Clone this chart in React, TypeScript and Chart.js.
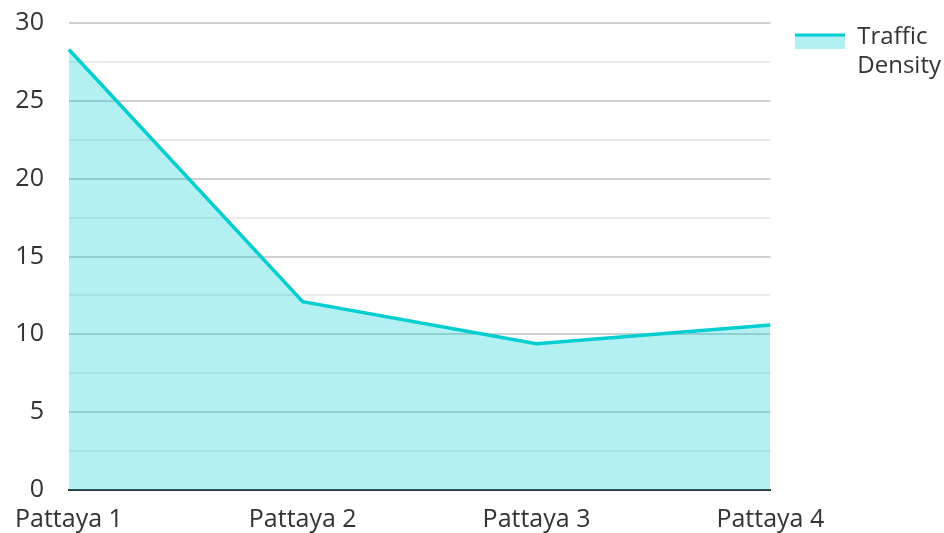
import React, { useEffect, useRef } from "react";
import { Chart, registerables } from "chart.js";

Chart.register(...registerables);

const categories = ["Pattaya 1", "Pattaya 2", "Pattaya 3", "Pattaya 4"];
const trafficDensity = [28.3, 12.1, 9.4, 10.6];
const seriesLabel = ["Traffic", "Density"];
const yMin = 0;
const yMax = 30;
const yStep = 2.5;
const yLabelStep = 5;

const LINE = "#00CED1";
const FILL = "rgba(0,206,209,0.3)";
const FONT = "'Open Sans', sans-serif";

function makeLegendIcon(): HTMLCanvasElement {
  const c = document.createElement("canvas");
  c.width = 50;
  c.height = 23;
  const g = c.getContext("2d")!;
  g.fillStyle = FILL;
  g.fillRect(0, 11, 50, 12);
  g.fillStyle = LINE;
  g.fillRect(0, 8, 50, 3);
  return c;
}

export default function App() {
  const ref = useRef<HTMLCanvasElement | null>(null);
  useEffect(() => {
    if (!ref.current) return;
    const icon = makeLegendIcon();
    const chart = new Chart(ref.current, {
      type: "line",
      data: {
        labels: categories,
        datasets: [
          {
            label: seriesLabel.join(" "),
            data: trafficDensity,
            borderColor: LINE,
            backgroundColor: FILL,
            borderWidth: 3.5,
            fill: "origin",
            pointRadius: 0,
            tension: 0,
          },
        ],
      },
      options: {
        animation: false,
        responsive: true,
        maintainAspectRatio: false,
        layout: { padding: { top: 0, bottom: -17, left: 0, right: -7 } },
        plugins: {
          tooltip: { enabled: false },
          legend: {
            position: "right",
            align: "start",
            labels: {
              usePointStyle: true,
              pointStyleWidth: 50,
              boxWidth: 50,
              padding: 25,
              color: "#333",
              font: { family: FONT, size: 24 },
              generateLabels: (ch: any) => {
                const base = Chart.defaults.plugins.legend.labels.generateLabels(ch);
                return base.map((l: any) => ({
                  ...l,
                  text: seriesLabel,
                  pointStyle: icon,
                  lineWidth: 0,
                }));
              },
            },
          },
        },
        scales: {
          x: {
            offset: false,
            grid: { display: false, drawTicks: false },
            border: { display: true, color: "#333", width: 2 },
            ticks: {
              color: "#333",
              font: { family: FONT, size: 25 },
              padding: 15,
              maxRotation: 0,
              autoSkip: false,
            },
          },
          y: {
            min: yMin,
            max: yMax,
            afterFit: (s: any) => {
              s.width = 68;
              s.paddingTop = 23;
              s.paddingBottom = 0;
            },
            grid: {
              drawTicks: false,
              lineWidth: 2,
              color: (ctx: any) =>
                ctx.tick && ctx.tick.value % yLabelStep === 0 ? "#cfcfcf" : "#ebebeb",
            },
            border: { display: false },
            ticks: {
              stepSize: yStep,
              padding: 25,
              autoSkip: false,
              color: "#333",
              font: { family: FONT, size: 25 },
              callback: (v: any) => (Number(v) % yLabelStep === 0 ? String(v) : ""),
            },
          },
        },
      },
    });
    return () => chart.destroy();
  }, []);
  return (
    <div style={{ position: "fixed", left: 0, top: 0, width: 944, height: 533, background: "#fff" }}>
      <canvas ref={ref} />
    </div>
  );
}
